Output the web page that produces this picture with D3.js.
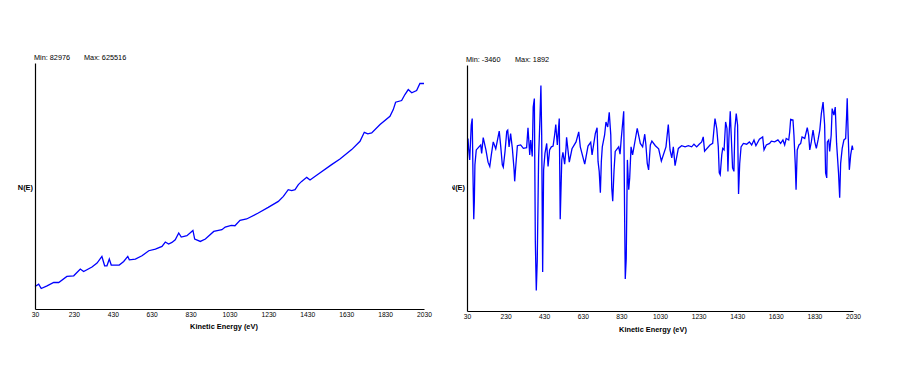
<!DOCTYPE html>
<html>
<head>
<meta charset="utf-8">
<script src="https://cdn.jsdelivr.net/npm/d3@7"></script>
<style>
  body { margin: 0; background: #fff; }
  svg text { font-family: "Liberation Sans", Arial, sans-serif; fill: #000; }
</style>
</head>
<body>
<script>
// survey spectrum, N(E) vs kinetic energy
const leftEnergy = [30, 49, 62, 92, 126, 152, 194, 229, 263, 280, 323, 349, 374, 388, 400, 412, 422, 463, 486, 507,
  515, 546, 580, 615, 649, 683, 700, 717, 734, 751, 769, 782, 811, 842, 851, 880, 906, 949, 991, 1008,
  1039, 1058, 1084, 1118, 1178, 1229, 1281, 1307, 1332, 1350, 1367, 1384, 1401, 1427, 1444, 1487, 1555, 1598, 1658, 1701,
  1723, 1741, 1761, 1804, 1855, 1872, 1884, 1915, 1932, 1949, 1967, 1992, 2009, 2030];
const leftCounts = [88300, 94600, 82976, 90100, 98900, 98900, 114800, 116600, 134400, 128000, 139700, 150300, 167800, 143100, 143100, 160900, 145000, 145000, 154500, 167800,
  159000, 160900, 169600, 182900, 187400, 194300, 206000, 200600, 204900, 212000, 229800, 219200, 222600, 236700, 213900, 207500, 213900, 234000, 238500, 245700,
  249900, 249100, 263200, 266900, 282800, 297600, 313500, 326800, 344500, 341900, 344500, 357800, 366500, 377100, 370200, 386100, 410800, 425900, 450500, 472500,
  496400, 492100, 494800, 516800, 538800, 556500, 575900, 580400, 596300, 609500, 600800, 606900, 625516, 625500];

// differentiated spectrum
const rightEnergy = [35, 39, 44, 52, 57, 61, 65, 68, 71, 78, 92, 101, 106, 114, 128, 139, 148, 156, 166, 179,
  197, 205, 213, 218, 227, 236, 241, 248, 256, 265, 274, 277, 282, 291, 308, 322, 339, 346, 355, 360,
  368, 373, 379, 384, 389, 394, 401, 408, 413, 417, 422, 427, 434, 443, 450, 458, 467, 476, 484, 490,
  498, 508, 513, 521, 527, 536, 543, 546, 560, 574, 595, 609, 617, 640, 657, 671, 678, 695, 704, 709,
  715, 721, 726, 731, 743, 750, 759, 767, 775, 780, 785, 792, 798, 816, 823, 829, 842, 847, 850, 855,
  861, 868, 873, 880, 888, 906, 912, 928, 940, 951, 957, 964, 971, 980, 988, 1006, 1023, 1037, 1061, 1068,
  1073, 1082, 1091, 1099, 1108, 1125, 1142, 1160, 1177, 1194, 1206, 1220, 1233, 1246, 1254, 1261, 1289, 1303, 1310, 1315,
  1324, 1332, 1337, 1342, 1350, 1355, 1362, 1370, 1377, 1382, 1387, 1394, 1399, 1406, 1413, 1418, 1425, 1432, 1437, 1443,
  1450, 1462, 1479, 1493, 1505, 1517, 1527, 1545, 1562, 1569, 1581, 1598, 1607, 1624, 1641, 1655, 1667, 1676, 1684, 1697,
  1702, 1707, 1719, 1724, 1731, 1735, 1741, 1750, 1759, 1766, 1780, 1793, 1800, 1806, 1814, 1823, 1832, 1840, 1849, 1858,
  1866, 1875, 1883, 1888, 1894, 1897, 1904, 1909, 1917, 1922, 1931, 1938, 1945, 1955, 1961, 1966, 1974, 1983, 1992, 1997,
  2000, 2005, 2011, 2018, 2026, 2030];
const rightDeriv = [510, 210, -50, 860, 1030, -440, -1600, -1130, -180, 210, 290, 340, 120, 530, 210, -110, -220, 80, 420, 240,
  700, 290, -180, -240, 170, 700, 730, 290, 640, 250, -310, -610, -260, 320, 340, 250, 270, 790, 80, 470,
  40, 1330, 1550, -2160, -3460, -2680, 0, 1030, 1892, 600, -2980, -310, 120, 380, -220, 210, 290, 310, 600, 870,
  340, 1030, -1600, -50, 150, -160, 250, 540, -110, 240, 420, 680, 290, -160, 310, 410, 80, 640, 790, -90,
  -350, -910, -90, 290, 600, 940, 810, 1190, 600, -780, -1130, -310, 170, 290, 100, 490, 1220, -1650, -3160, -2640,
  -50, -830, -520, 290, 80, 600, 770, 380, 290, 620, 340, -140, -310, 340, 440, 320, 240, -80, 290, 640,
  870, 210, 0, 290, -200, 250, 320, 290, 320, 290, 360, 290, 360, 420, 550, 180, 340, 380, 770, 1030,
  770, 290, -390, -440, 80, 250, 210, 940, 770, -350, 510, 1220, 600, -260, -350, 770, 1160, 860, -940, -140,
  290, 380, 360, 420, 340, 470, 320, 490, 550, 210, 340, 380, 440, 420, 470, 380, 470, 340, 510, 470,
  680, 1010, 990, 600, -180, -830, 210, 340, 380, 550, 510, 790, 600, 210, 420, 730, 420, 250, 470, 730,
  1160, 1460, 860, -390, -520, 420, 470, 170, 600, 1290, 1120, 1330, 380, -390, -1040, -140, 250, 470, 510, 1120,
  1560, 600, -310, 80, 320, 210];

const xTicks = [30, 230, 430, 630, 830, 1030, 1230, 1430, 1630, 1830, 2030];
const xTitle = "Kinetic Energy (eV)";
const yTitle = "N(E)";

const W = 906, H = 382;
const root = d3.select("body").append("svg").attr("width", W).attr("height", H);

function panel(g, o) {
  const x = d3.scaleLinear().domain([30, 2030]).range([o.x0, o.x1]);
  const lo = d3.min(o.y), hi = d3.max(o.y), pad = (hi - lo) * 0.1;
  const y = d3.scaleLinear().domain([lo - pad, hi + pad]).range([o.yb, o.yt]);

  g.append("path")
    .datum(d3.zip(o.e, o.y))
    .attr("fill", "none")
    .attr("stroke", "#0000ff")
    .attr("stroke-width", 1.3)
    .attr("d", d3.line().x(d => x(d[0])).y(d => y(d[1])));

  const xa = g.append("g").attr("transform", `translate(0,${o.yb})`)
    .call(d3.axisBottom(x).tickValues(xTicks).tickFormat(d3.format("d")).tickSize(0).tickPadding(3.5));
  xa.select(".domain").attr("stroke", "#000").attr("stroke-width", 1.2);
  xa.selectAll("text").style("font-size", "6.7px").attr("fill", "#000");

  const ya = g.append("g").attr("transform", `translate(${o.x0},0)`)
    .call(d3.axisLeft(y).tickValues([]).tickSizeOuter(0));
  ya.select(".domain").attr("stroke", "#000").attr("stroke-width", 1.2);

  g.append("text").attr("x", o.x0 - 1).attr("y", o.yt - 3)
    .style("font-size", "7.3px").text("Min: " + o.min);
  g.append("text").attr("x", o.maxX).attr("y", o.yt - 3)
    .style("font-size", "7.3px").text("Max: " + o.max);

  g.append("text").attr("x", o.titleX).attr("y", o.yb + o.titleDy)
    .attr("text-anchor", "middle").style("font-size", "7.4px").style("font-weight", "bold")
    .text(xTitle);
  g.append("text").attr("x", o.x0 - 2).attr("y", 190)
    .attr("text-anchor", "end").style("font-size", "7.4px").style("font-weight", "bold")
    .text(yTitle);
}

panel(root.append("g"), {
  e: leftEnergy, y: leftCounts, x0: 35, x1: 424, yt: 63, yb: 309,
  min: 82976, max: 625516, maxX: 84, titleX: 224, titleDy: 20
});

// right panel is clipped on its left edge, which cuts into its y title
const right = root.append("svg").attr("x", 452).attr("y", 0).attr("width", 454).attr("height", H);
panel(right, {
  e: rightEnergy, y: rightDeriv, x0: 15, x1: 401, yt: 65, yb: 311,
  min: -3460, max: 1892, maxX: 63, titleX: 201, titleDy: 21
});
</script>
</body>
</html>
